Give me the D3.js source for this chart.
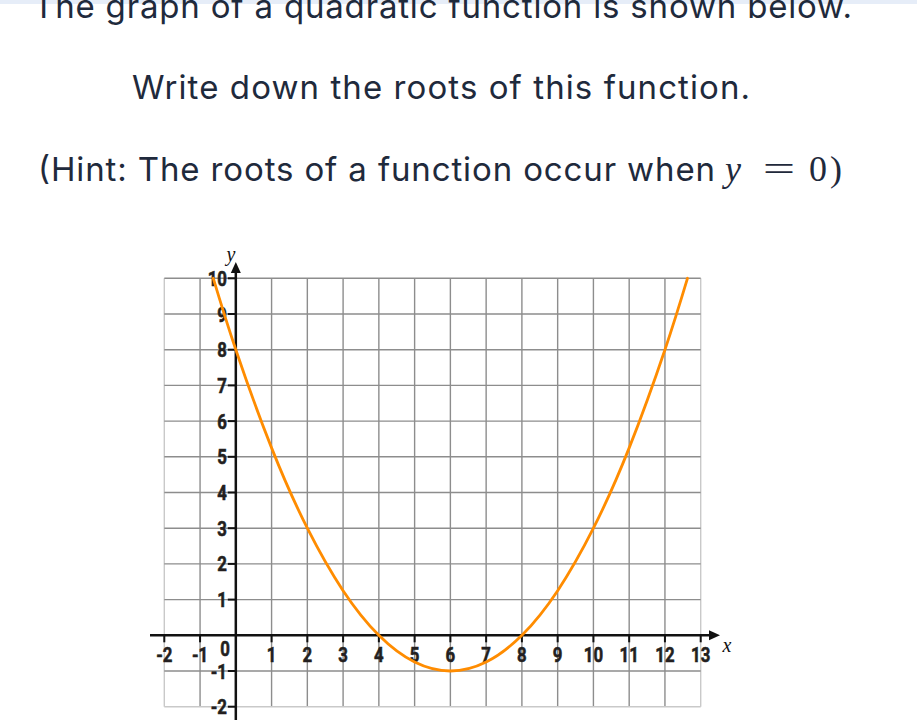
<!DOCTYPE html>
<html>
<head>
<meta charset="utf-8">
<script src="https://cdn.jsdelivr.net/npm/d3@7"></script>
<style>
  html, body { margin: 0; padding: 0; background: #fff; overflow: hidden; }
  svg { display: block; }
</style>
</head>
<body>
<svg id="chart" width="917" height="728"></svg>
<script>
// ---- data ----
const titleLines = [
  "The graph of a quadratic function is shown below.",
  "Write down the roots of this function."
];
const hintText = "(Hint: The roots of a function occur when";
const xTickValues = [-2, -1, 0, 1, 2, 3, 4, 5, 6, 7, 8, 9, 10, 11, 12, 13];
const yTickValues = [-2, -1, 0, 1, 2, 3, 4, 5, 6, 7, 8, 9, 10];
const curveX = [-0.63, 0, 1, 2, 3, 4, 5, 6, 7, 8, 9, 10, 11, 12, 12.63];
const curveY = [10, 8, 5.25, 3, 1.25, 0, -0.75, -1, -0.75, 0, 1.25, 3, 5.25, 8, 10];

// ---- drawing ----
const svg = d3.select("#chart");
const textColor = "#1f2a3c";
const sansFont = "Inter, 'Open Sans', sans-serif";
const mathFont = "'Liberation Serif', 'DejaVu Serif', serif";

// top band
svg.append("rect").attr("x", 0).attr("y", 0).attr("width", 917).attr("height", 4).attr("fill", "#e6edf8");

function para(txt, x0, x1, base) {
  svg.append("text").attr("x", x0).attr("y", base)
    .attr("font-family", sansFont).attr("font-size", 33).attr("fill", textColor)
    .attr("textLength", x1 - x0).attr("lengthAdjust", "spacing")
    .text(txt);
}
para(titleLines[0], 33, 852, 18);
para(titleLines[1], 132, 750, 99);
para(hintText, 38, 715, 181);

// math part "y = 0)"
svg.append("text").attr("x", 725).attr("y", 181)
  .attr("font-family", mathFont).attr("font-style", "italic").attr("font-size", 36)
  .attr("fill", textColor).text("y");
svg.append("text").attr("x", 779).attr("y", 181).attr("text-anchor", "middle")
  .attr("font-family", mathFont).attr("font-size", 36)
  .attr("transform", "translate(779,181) scale(1.6,1) translate(-779,-181)")
  .attr("fill", textColor).text("=");
svg.append("text").attr("x", 818).attr("y", 181).attr("text-anchor", "middle")
  .attr("font-family", mathFont).attr("font-size", 36)
  .attr("fill", textColor).text("0");
svg.append("text").attr("x", 836).attr("y", 181).attr("text-anchor", "middle")
  .attr("font-family", mathFont).attr("font-size", 36)
  .attr("fill", textColor).text(")");

// scales
const x = d3.scaleLinear().domain([-2, 13]).range([164.3, 700.7]);
const y = d3.scaleLinear().domain([-2, 10]).range([706.7, 278.3]);

const g = svg.append("g");
const gridColor = "#8d8d8d";
const edgeColor = "#c9c9c9";

// vertical grid lines
g.selectAll(".vgrid").data(xTickValues).join("line")
  .attr("x1", d => x(d)).attr("x2", d => x(d))
  .attr("y1", y(-2)).attr("y2", y(10))
  .attr("stroke", d => (d === -2 || d === 13) ? edgeColor : gridColor)
  .attr("stroke-width", 1.4);
// horizontal grid lines
g.selectAll(".hgrid").data(yTickValues).join("line")
  .attr("y1", d => y(d)).attr("y2", d => y(d))
  .attr("x1", x(-2)).attr("x2", x(13))
  .attr("stroke", d => (d === -2) ? edgeColor : gridColor)
  .attr("stroke-width", 1.4);

// axes
const axisColor = "#111";
g.append("line").attr("x1", 150).attr("x2", 712).attr("y1", y(0)).attr("y2", y(0))
  .attr("stroke", axisColor).attr("stroke-width", 2.5);
g.append("path")
  .attr("d", `M${720},${y(0)} L${709},${y(0) - 5} L${709},${y(0) + 5} Z`)
  .attr("fill", axisColor);
g.append("line").attr("x1", x(0)).attr("x2", x(0)).attr("y1", 720).attr("y2", 270)
  .attr("stroke", axisColor).attr("stroke-width", 2.5);
g.append("path")
  .attr("d", `M${x(0)},${262} L${x(0) - 5},${273} L${x(0) + 5},${273} Z`)
  .attr("fill", axisColor);

const tickFont = "Roboto, 'Liberation Sans', sans-serif";
const fmt = d => d < 0 ? "-" + Math.abs(d) : String(d);
function tickLabel(sel, anchor) {
  return sel.attr("text-anchor", anchor)
    .attr("font-family", tickFont).attr("font-weight", 700).attr("font-size", 21)
    .attr("fill", "#231f20").attr("stroke", "#231f20").attr("stroke-width", 0.6);
}
// x ticks
const xNZ = xTickValues.filter(d => d !== 0);
g.selectAll(".xtick").data(xNZ).join("line")
  .attr("x1", d => x(d)).attr("x2", d => x(d))
  .attr("y1", y(0)).attr("y2", y(0) + 7)
  .attr("stroke", axisColor).attr("stroke-width", 2);
tickLabel(g.selectAll(".xlab").data(xNZ).join("text"), "middle")
  .attr("transform", d => `translate(${x(d)},662) scale(0.8,1)`)
  .text(fmt);
// zero label
tickLabel(g.append("text"), "middle")
  .attr("transform", "translate(225,656) scale(0.8,1)").text("0");

// y ticks
const yNZ = yTickValues.filter(d => d !== 0);
g.selectAll(".ytick").data(yNZ).join("line")
  .attr("x1", x(0) - 8).attr("x2", x(0))
  .attr("y1", d => y(d)).attr("y2", d => y(d))
  .attr("stroke", axisColor).attr("stroke-width", 2);
tickLabel(g.selectAll(".ylab").data(yNZ).join("text"), "end")
  .attr("transform", d => `translate(227,${y(d) + 7.5}) scale(0.8,1)`)
  .text(fmt);

// axis letters
g.append("text").attr("x", 231).attr("y", 261).attr("text-anchor", "middle")
  .attr("font-family", mathFont).attr("font-style", "italic").attr("font-size", 20)
  .attr("fill", "#111").text("y");
g.append("text").attr("x", 727).attr("y", 652).attr("text-anchor", "middle")
  .attr("font-family", mathFont).attr("font-style", "italic").attr("font-size", 20)
  .attr("fill", "#111").text("x");

// curve
const pts = curveX.map((cx, i) => [cx, curveY[i]]);
const line = d3.line().x(d => x(d[0])).y(d => y(d[1])).curve(d3.curveNatural);
g.append("path").attr("d", line(pts))
  .attr("fill", "none").attr("stroke", "#ff8c00").attr("stroke-width", 2.8)
  .attr("stroke-linecap", "round");
</script>
</body>
</html>
